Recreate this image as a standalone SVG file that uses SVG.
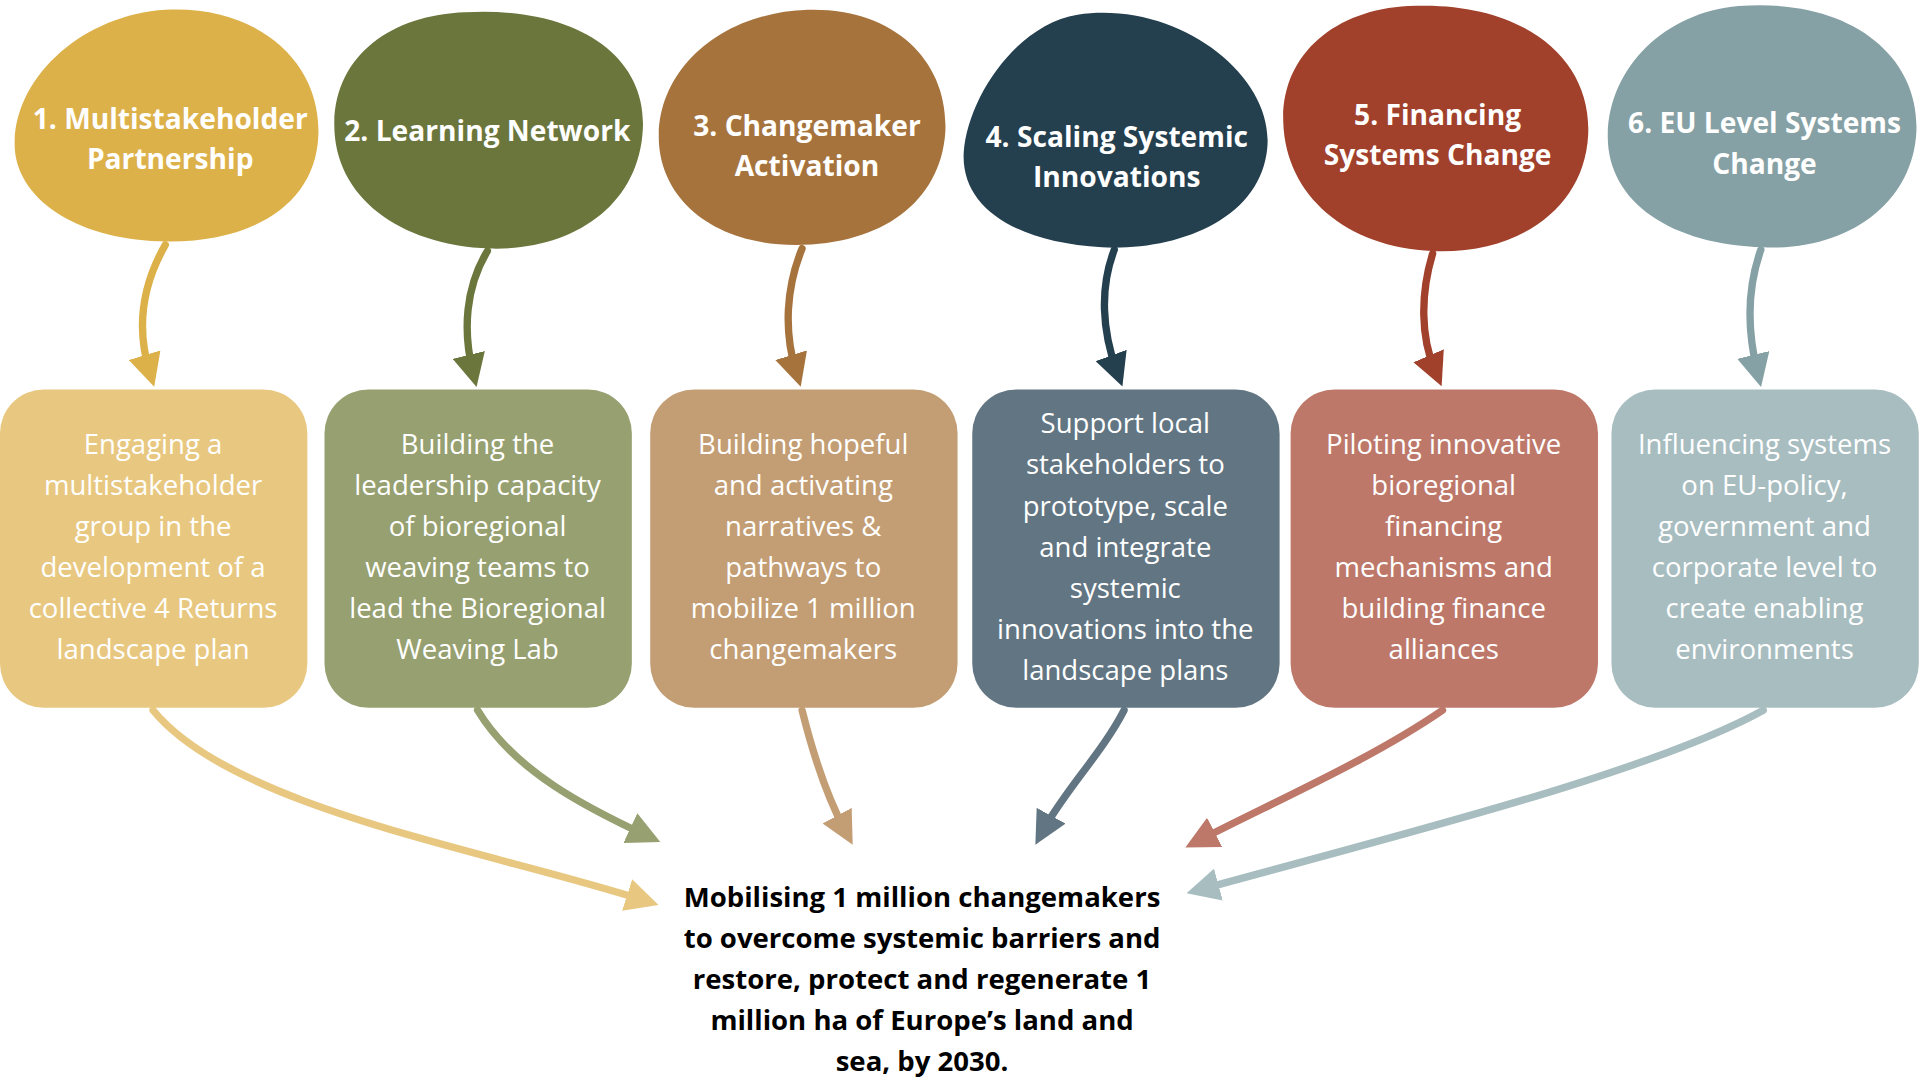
<svg xmlns="http://www.w3.org/2000/svg" width="1920" height="1080" viewBox="0 0 1920 1080">
<style>
.bt{font-family:"Open Sans","Liberation Sans",sans-serif;font-weight:700;font-size:23px;fill:#fff;text-anchor:middle}
.tx{font-family:"Open Sans","Liberation Sans",sans-serif;font-size:22.5px;fill:#fff;text-anchor:middle}
.gl{font-family:"Open Sans","Liberation Sans",sans-serif;font-weight:700;font-size:22.5px;fill:#000;text-anchor:middle}
.c path{fill:none;stroke-width:6;stroke-linecap:round}
</style>
<defs>
<marker id="m1" viewBox="0 0 10 10" refX="5" refY="5" markerWidth="4.5" markerHeight="4.5" orient="auto"><path d="M0 0L10 5L0 10Z" fill="#DDB14A"/></marker>
<marker id="m2" viewBox="0 0 10 10" refX="5" refY="5" markerWidth="4.5" markerHeight="4.5" orient="auto"><path d="M0 0L10 5L0 10Z" fill="#6B763C"/></marker>
<marker id="m3" viewBox="0 0 10 10" refX="5" refY="5" markerWidth="4.5" markerHeight="4.5" orient="auto"><path d="M0 0L10 5L0 10Z" fill="#A6733D"/></marker>
<marker id="m4" viewBox="0 0 10 10" refX="5" refY="5" markerWidth="4.5" markerHeight="4.5" orient="auto"><path d="M0 0L10 5L0 10Z" fill="#243F4E"/></marker>
<marker id="m5" viewBox="0 0 10 10" refX="5" refY="5" markerWidth="4.5" markerHeight="4.5" orient="auto"><path d="M0 0L10 5L0 10Z" fill="#A1402B"/></marker>
<marker id="m6" viewBox="0 0 10 10" refX="5" refY="5" markerWidth="4.5" markerHeight="4.5" orient="auto"><path d="M0 0L10 5L0 10Z" fill="#86A1A5"/></marker>
<marker id="l1" viewBox="0 0 10 10" refX="5" refY="5" markerWidth="4.5" markerHeight="4.5" orient="auto"><path d="M0 0L10 5L0 10Z" fill="#E8C880"/></marker>
<marker id="l2" viewBox="0 0 10 10" refX="5" refY="5" markerWidth="4.5" markerHeight="4.5" orient="auto"><path d="M0 0L10 5L0 10Z" fill="#97A070"/></marker>
<marker id="l3" viewBox="0 0 10 10" refX="5" refY="5" markerWidth="4.5" markerHeight="4.5" orient="auto"><path d="M0 0L10 5L0 10Z" fill="#C39D73"/></marker>
<marker id="l4" viewBox="0 0 10 10" refX="5" refY="5" markerWidth="4.5" markerHeight="4.5" orient="auto"><path d="M0 0L10 5L0 10Z" fill="#627582"/></marker>
<marker id="l5" viewBox="0 0 10 10" refX="5" refY="5" markerWidth="4.5" markerHeight="4.5" orient="auto"><path d="M0 0L10 5L0 10Z" fill="#BD786A"/></marker>
<marker id="l6" viewBox="0 0 10 10" refX="5" refY="5" markerWidth="4.5" markerHeight="4.5" orient="auto"><path d="M0 0L10 5L0 10Z" fill="#A8BDC0"/></marker>
</defs>
<rect width="1920" height="1080" fill="#fff"/>
<g transform="scale(1.2245)">
<g id="b1"><path d="M135 8C210 4 262 50 260 110C258 170 200 200 130 197C60 195 10 160 12 115C14 60 70 12 135 8Z" fill="#DDB14A"/><text class="bt" x="139" y="105">1. Multistakeholder</text><text class="bt" x="139" y="138">Partnership</text></g>
<g id="b2"><path d="M380 10C470 5 528 45 525 105C522 170 465 205 400 203C325 200 272 160 273 100C274 45 320 12 380 10Z" fill="#6B763C"/><text class="bt" x="398" y="115">2. Learning Network</text></g>
<g id="b3"><path d="M660 8C730 6 775 50 772 108C768 165 720 200 650 200C580 200 537 160 538 110C539 55 590 10 660 8Z" fill="#A6733D"/><text class="bt" x="659" y="111">3. Changemaker</text><text class="bt" x="659" y="144">Activation</text></g>
<g id="b4"><path d="M880 12C960 0 1040 60 1035 120C1030 180 960 205 900 202C830 198 785 170 787 125C790 80 830 20 880 12Z" fill="#243F4E"/><text class="bt" x="912" y="120">4. Scaling Systemic</text><text class="bt" x="912" y="153">Innovations</text></g>
<g id="b5"><path d="M1150 5C1240 0 1300 45 1297 110C1294 170 1240 208 1170 205C1100 202 1050 160 1048 100C1046 45 1090 8 1150 5Z" fill="#A1402B"/><text class="bt" x="1174" y="102">5. Financing</text><text class="bt" x="1174" y="135">Systems Change</text></g>
<g id="b6"><path d="M1420 5C1510 -2 1568 45 1565 108C1562 165 1510 205 1440 202C1365 200 1312 165 1313 110C1314 55 1360 10 1420 5Z" fill="#86A1A5"/><text class="bt" x="1441" y="109">6. EU Level Systems</text><text class="bt" x="1441" y="142">Change</text></g>

<g id="n1"><rect x="0" y="318" width="251" height="260" rx="36" fill="#E8C880"/><text class="tx" x="125" y="371">Engaging a</text><text class="tx" x="125" y="404.5">multistakeholder</text><text class="tx" x="125" y="438">group in the</text><text class="tx" x="125" y="471.5">development of a</text><text class="tx" x="125" y="505">collective 4 Returns</text><text class="tx" x="125" y="538.5">landscape plan</text></g>
<g id="n2"><rect x="265" y="318" width="251" height="260" rx="36" fill="#97A070"/><text class="tx" x="390" y="371">Building the</text><text class="tx" x="390" y="404.5">leadership capacity</text><text class="tx" x="390" y="438">of bioregional</text><text class="tx" x="390" y="471.5">weaving teams to</text><text class="tx" x="390" y="505">lead the Bioregional</text><text class="tx" x="390" y="538.5">Weaving Lab</text></g>
<g id="n3"><rect x="531" y="318" width="251" height="260" rx="36" fill="#C39D73"/><text class="tx" x="656" y="371">Building hopeful</text><text class="tx" x="656" y="404.5">and activating</text><text class="tx" x="656" y="438">narratives &amp;</text><text class="tx" x="656" y="471.5">pathways to</text><text class="tx" x="656" y="505">mobilize 1 million</text><text class="tx" x="656" y="538.5">changemakers</text></g>
<g id="n4"><rect x="794" y="318" width="251" height="260" rx="36" fill="#627582"/><text class="tx" x="919" y="354">Support local</text><text class="tx" x="919" y="387.5">stakeholders to</text><text class="tx" x="919" y="421">prototype, scale</text><text class="tx" x="919" y="454.5">and integrate</text><text class="tx" x="919" y="488">systemic</text><text class="tx" x="919" y="521.5">innovations into the</text><text class="tx" x="919" y="555">landscape plans</text></g>
<g id="n5"><rect x="1054" y="318" width="251" height="260" rx="36" fill="#BD786A"/><text class="tx" x="1179" y="371">Piloting innovative</text><text class="tx" x="1179" y="404.5">bioregional</text><text class="tx" x="1179" y="438">financing</text><text class="tx" x="1179" y="471.5">mechanisms and</text><text class="tx" x="1179" y="505">building finance</text><text class="tx" x="1179" y="538.5">alliances</text></g>
<g id="n6"><rect x="1316" y="318" width="251" height="260" rx="36" fill="#A8BDC0"/><text class="tx" x="1441" y="371">Influencing systems</text><text class="tx" x="1441" y="404.5">on EU-policy,</text><text class="tx" x="1441" y="438">government and</text><text class="tx" x="1441" y="471.5">corporate level to</text><text class="tx" x="1441" y="505">create enabling</text><text class="tx" x="1441" y="538.5">environments</text></g>

<g id="goal"><text class="gl" x="753" y="741">Mobilising 1 million changemakers</text><text class="gl" x="753" y="774.5">to overcome systemic barriers and</text><text class="gl" x="753" y="808">restore, protect and regenerate 1</text><text class="gl" x="753" y="841.5">million ha of Europe’s land and</text><text class="gl" x="753" y="875">sea, by 2030.</text></g>

<g id="connectors" class="c">
<path d="M135 200C115 235 112 270 122 303" stroke="#DDB14A" marker-end="url(#m1)"/>
<path d="M398 205C380 235 378 270 386 303" stroke="#6B763C" marker-end="url(#m2)"/>
<path d="M655 203C642 235 640 270 650 303" stroke="#A6733D" marker-end="url(#m3)"/>
<path d="M910 204C898 235 900 270 912 303" stroke="#243F4E" marker-end="url(#m4)"/>
<path d="M1170 207C1160 240 1160 275 1172 303" stroke="#A1402B" marker-end="url(#m5)"/>
<path d="M1438 204C1427 235 1427 270 1435 303" stroke="#86A1A5" marker-end="url(#m6)"/>
<path d="M125 580C190 660 400 695 525 735" stroke="#E8C880" marker-end="url(#l1)"/>
<path d="M390 580C420 630 480 660 527 682" stroke="#97A070" marker-end="url(#l2)"/>
<path d="M655 580C665 620 675 650 690 678" stroke="#C39D73" marker-end="url(#l3)"/>
<path d="M918 580C900 615 870 645 852 678" stroke="#627582" marker-end="url(#l4)"/>
<path d="M1178 580C1120 620 1040 655 980 686" stroke="#BD786A" marker-end="url(#l5)"/>
<path d="M1440 580C1350 630 1150 680 982 726" stroke="#A8BDC0" marker-end="url(#l6)"/>
</g>
</g>
</svg>
